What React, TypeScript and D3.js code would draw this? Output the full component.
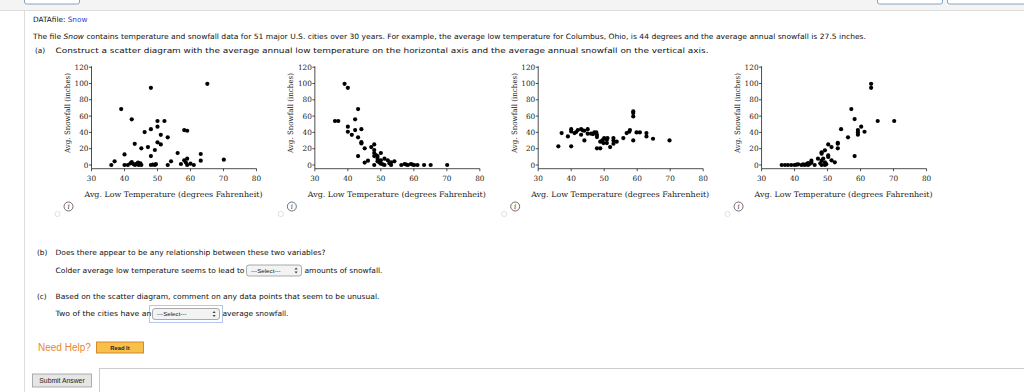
import React from "react";
import * as d3 from "d3";

const xTicks = [30, 40, 50, 60, 70, 80];
const yTicks = [0, 20, 40, 60, 80, 100, 120];

const chartA: [number, number][] = [
  [36, 0], [37, 4.5], [39, 68.6], [40, 13], [40, 0], [41, 0], [42.2, 56], [42.2, 3.7], [43.1, 26], [43.2, 0],
  [44.1, 3], [44.3, 0], [45.1, 0], [45.1, 20.4], [46.1, 40.4], [47.1, 22], [48, 94.7], [48, 44], [48, 11], [48, 0],
  [49.2, 18.4], [49.2, 0], [50, 47], [50, 54], [50, 27.8], [51, 37], [51, 25.3], [52.1, 54], [53.1, 34], [53.1, 0],
  [54.1, 4.5], [56.1, 14.7], [57.1, 1.2], [58.1, 5.7], [58.1, 42.9], [59, 42], [59, 7.8], [59, 0], [60, 1.6], [61, 0],
  [63.1, 13.5], [63.1, 5.3], [65.1, 99.6], [70.1, 6.5], [42.8, 1], [44.8, 2], [48.6, 0.5], [49.5, 1], [58.6, 3], [43.7, 1.5], [41.8, 2],
];

const chartB: [number, number][] = [
  [36.1, 54], [37.1, 54], [39, 99.6], [40, 94.7], [40, 47], [40, 40.8], [41.2, 37], [42.2, 56], [42.2, 42.9], [43.1, 68.6],
  [43.1, 34], [43.1, 11], [44.1, 44], [44.1, 28], [44.1, 26.5], [45.1, 20.4], [45.1, 3], [46.1, 5.3], [47.1, 22], [48, 25.3],
  [48, 18.4], [48, 14.7], [48, 11], [48, 0], [49, 11], [49, 7.8], [49, 4.5], [50, 14.7], [50, 5.7], [50, 1.6],
  [51.1, 7.8], [51.1, 0], [52.1, 5.7], [53.1, 3.3], [53.1, 0], [54.1, 4.5], [56.2, 0], [57.2, 1.2], [58.2, 0], [59.1, 1.2],
  [60.1, 0], [61.1, 0], [63.1, 0], [65.1, 0], [70.1, 0], [48.5, 12], [49.6, 3], [52.6, 2], [57.7, 0.5], [59.6, 0.5], [50.6, 0.8],
];

const chartC: [number, number][] = [
  [36.1, 22.9], [37.1, 39.2], [39, 35.1], [40, 44], [40, 41.2], [40, 22.9], [41, 39.2], [42, 42.9], [43, 44], [43, 37.1],
  [44, 42], [44, 30.2], [45, 44], [45, 38.4], [46, 38.4], [47, 40], [47.6, 40], [47.8, 37.1], [47.8, 34.3], [47.8, 20.4],
  [48.8, 20.4], [48.8, 28.6], [49.6, 31], [49.8, 26.9], [50, 33], [50.8, 31], [50.8, 26.9], [51, 33], [51.8, 22], [52.8, 33],
  [52.8, 30.2], [52.8, 26.1], [53.8, 28.6], [55.8, 33], [56.8, 39.2], [57.6, 40.8], [57.8, 42.9], [58.8, 65.7], [58.8, 63.7], [58.8, 59.6],
  [58.8, 30.2], [59.8, 40], [60.8, 40], [62.8, 39.2], [62.8, 35.1], [64.8, 32.2], [69.8, 30.2], [41.5, 40.5], [43.5, 42.5], [46.6, 38], [49.2, 29],
];

const chartD: [number, number][] = [
  [36.1, 0], [37.1, 0], [39, 0], [40, 0], [41.1, 0.8], [42.1, 0], [42.6, 0.8], [43.1, 0], [44.1, 2.4], [44.1, 0],
  [45.1, 5.3], [45.1, 2.9], [46.1, 0], [47.1, 7.8], [48.2, 13.9], [48.2, 15.5], [48.2, 5.3], [48.2, 0], [49.2, 18], [49.2, 3.3],
  [49.2, 0], [50.2, 25.3], [50.2, 11.8], [50.2, 9.8], [51.2, 22], [51.2, 5.7], [52.2, 3.3], [53.1, 27.3], [53.1, 20.4], [53.1, 26.1],
  [54.1, 44], [56.2, 34], [57.2, 68.6], [58.2, 56.3], [58.2, 11], [59.2, 42.9], [59.2, 37.1], [59.2, 40], [60.2, 47], [61.2, 40.8],
  [63.2, 99.6], [63.2, 94.7], [65.2, 54], [70.2, 54], [38, 0], [40.6, 0.4], [43.6, 1], [44.6, 1.5], [47.8, 2], [48.7, 8], [49.6, 1],
];

const charts = [chartA, chartB, chartC, chartD];

const SANS = "'DejaVu Sans', Verdana, sans-serif";
const SERIF = "'DejaVu Serif', 'Liberation Serif', serif";
const ARIAL = "'Liberation Sans', Arial, sans-serif";
const INK = "#111";

function Scatter({ data, left }: { data: [number, number][]; left: number }) {
  const x = d3.scaleLinear().domain([30, 80]).range([left, left + 165]);
  const y = d3.scaleLinear().domain([0, 120]).range([165, 67.2]);
  const axisY = 168.7;
  return (
    <g>
      <line x1={left} x2={left} y1={y(120) - 1} y2={axisY} stroke="#222" strokeWidth={0.8} />
      <line x1={left} x2={x(80)} y1={axisY} y2={axisY} stroke="#222" strokeWidth={0.8} />
      {yTicks.map((t) => (
        <g key={"y" + t}>
          <line x1={left - 2.5} x2={left} y1={y(t)} y2={y(t)} stroke="#222" strokeWidth={0.8} />
          <text x={left - 3} y={y(t) + 2.5} fontSize={7.3} fontFamily={SERIF} textAnchor="end" fill="#222">
            {t}
          </text>
        </g>
      ))}
      {xTicks.map((t) => (
        <g key={"x" + t}>
          <line x1={x(t)} x2={x(t)} y1={axisY} y2={axisY + 2.5} stroke="#222" strokeWidth={0.8} />
          <text x={x(t)} y={181.3} fontSize={7.3} fontFamily={SERIF} textAnchor="middle" fill="#222">
            {t}
          </text>
        </g>
      ))}
      <text
        transform={`translate(${left - 21.5},113) rotate(-90)`}
        fontSize={7.4}
        fontFamily={SERIF}
        textAnchor="middle"
        fill="#222"
        textLength={80}
        lengthAdjust="spacingAndGlyphs"
      >
        Avg. Snowfall (inches)
      </text>
      <text
        x={left + 82}
        y={197}
        fontSize={7.6}
        fontFamily={SERIF}
        textAnchor="middle"
        fill="#222"
        textLength={178}
        lengthAdjust="spacingAndGlyphs"
      >
        Avg. Low Temperature (degrees Fahrenheit)
      </text>
      {data.map((d, i) => (
        <circle key={i} cx={x(d[0])} cy={y(d[1])} r={2.1} fill="#000" />
      ))}
      <circle cx={left - 34} cy={214} r={2.6} fill="#fff" stroke="#ccc" strokeWidth={0.6} />
      <circle cx={left - 23} cy={206.5} r={4.5} fill="#fff" stroke="#333" strokeWidth={0.7} />
      <text x={left - 23} y={209} fontSize={7} fontFamily={SERIF} fontStyle="italic" textAnchor="middle" fill="#333">
        i
      </text>
    </g>
  );
}

function SelectBox({ x, y, w }: { x: number; y: number; w: number }) {
  return (
    <g>
      <rect x={x} y={y} width={w} height={11} rx={2.5} fill="#f3f3f3" stroke="#888" strokeWidth={0.7} />
      <text x={x + 4.5} y={y + 7.8} fontSize={6.2} fontFamily={ARIAL} fill="#222">
        ---Select---
      </text>
      <path d={`M${x + w - 7},${y + 4.6} l1.6,-2 l1.6,2 z M${x + w - 7},${y + 6.4} l1.6,2 l1.6,-2 z`} fill="#444" />
    </g>
  );
}

export default function App() {
  const lefts = [0, 1, 2, 3].map((i) => 91.5 + i * 223.35);
  return (
    <svg
      width={1024}
      height={392}
      style={{ position: "absolute", left: 0, top: 0, background: "#fff" }}
    >
      <rect x={0} y={0} width={1024} height={10} fill="#f4f4f4" />
      <line x1={0} x2={1024} y1={10.5} y2={10.5} stroke="#ddd" strokeWidth={1} />
      <rect x={24.5} y={-4} width={55} height={8} rx={2} fill="#fff" stroke="#6a8db5" strokeWidth={0.8} />
      <rect x={877.5} y={-4} width={65} height={8} rx={2} fill="#fff" stroke="#6a8db5" strokeWidth={0.8} />
      <rect x={947.5} y={-4} width={90} height={8} rx={2} fill="#fff" stroke="#6a8db5" strokeWidth={0.8} />
      <line x1={24.5} x2={24.5} y1={10.5} y2={392} stroke="#ddd" strokeWidth={1} />

      <text x={33} y={21.5} fontSize={7.3} fontFamily={SANS} fill={INK}>
        DATAfile: <tspan fill="#1a3fd6">Snow</tspan>
      </text>
      <text x={33} y={39} fontSize={7.3} fontFamily={SANS} fill={INK} textLength={833} lengthAdjust="spacingAndGlyphs">
        The file <tspan fontStyle="italic">Snow</tspan> contains temperature and snowfall data for 51 major U.S. cities over 30 years. For example, the average low temperature for Columbus, Ohio, is 44 degrees and the average annual snowfall is 27.5 inches.
      </text>
      <text x={35} y={52.5} fontSize={7.3} fontFamily={SANS} fill={INK}>
        (a)
      </text>
      <text x={55.5} y={52.5} fontSize={7.3} fontFamily={SANS} fill={INK} textLength={653} lengthAdjust="spacingAndGlyphs">
        Construct a scatter diagram with the average annual low temperature on the horizontal axis and the average annual snowfall on the vertical axis.
      </text>

      {charts.map((c, i) => (
        <Scatter key={i} data={c} left={lefts[i]} />
      ))}

      <text x={37} y={255} fontSize={7.3} fontFamily={SANS} fill={INK}>
        (b)
      </text>
      <text x={55.5} y={255} fontSize={7.3} fontFamily={SANS} fill={INK} textLength={270} lengthAdjust="spacingAndGlyphs">
        Does there appear to be any relationship between these two variables?
      </text>
      <text x={55.5} y={272.8} fontSize={7.3} fontFamily={SANS} fill={INK} textLength={189} lengthAdjust="spacingAndGlyphs">
        Colder average low temperature seems to lead to
      </text>
      <SelectBox x={246.5} y={265} w={55} />
      <text x={304.5} y={272.8} fontSize={7.3} fontFamily={SANS} fill={INK} textLength={78} lengthAdjust="spacingAndGlyphs">
        amounts of snowfall.
      </text>

      <text x={37} y={298.5} fontSize={7.3} fontFamily={SANS} fill={INK}>
        (c)
      </text>
      <text x={55.5} y={298.5} fontSize={7.3} fontFamily={SANS} fill={INK} textLength={324} lengthAdjust="spacingAndGlyphs">
        Based on the scatter diagram, comment on any data points that seem to be unusual.
      </text>
      <text x={55.5} y={316} fontSize={7.3} fontFamily={SANS} fill={INK} textLength={96} lengthAdjust="spacingAndGlyphs">
        Two of the cities have an
      </text>
      <rect x={149.5} y={305.5} width={73} height={17} fill="none" stroke="#3a6fd8" strokeWidth={0.8} strokeDasharray="1,1" />
      <SelectBox x={152.5} y={308.5} w={67} />
      <text x={222.5} y={316} fontSize={7.3} fontFamily={SANS} fill={INK} textLength={66} lengthAdjust="spacingAndGlyphs">
        average snowfall.
      </text>

      <text x={38} y={350.5} fontSize={10} fontFamily={ARIAL} fill="#e8892e">
        Need Help?
      </text>
      <rect x={96.5} y={342} width={47} height={11} fill="#f6c04a" stroke="#d9872c" strokeWidth={1} />
      <text x={120} y={350} fontSize={5.8} fontFamily={ARIAL} fontWeight="bold" textAnchor="middle" fill="#222">
        Read It
      </text>

      <rect x={32.5} y={374} width={59} height={13} fill="#e6e6e6" stroke="#9a9a9a" strokeWidth={0.8} />
      <text x={62} y={383.3} fontSize={6.8} fontFamily={ARIAL} textAnchor="middle" fill="#222">
        Submit Answer
      </text>
      <rect x={99.5} y={368.5} width={940} height={30} fill="#fff" stroke="#ccc" strokeWidth={1} />
    </svg>
  );
}
